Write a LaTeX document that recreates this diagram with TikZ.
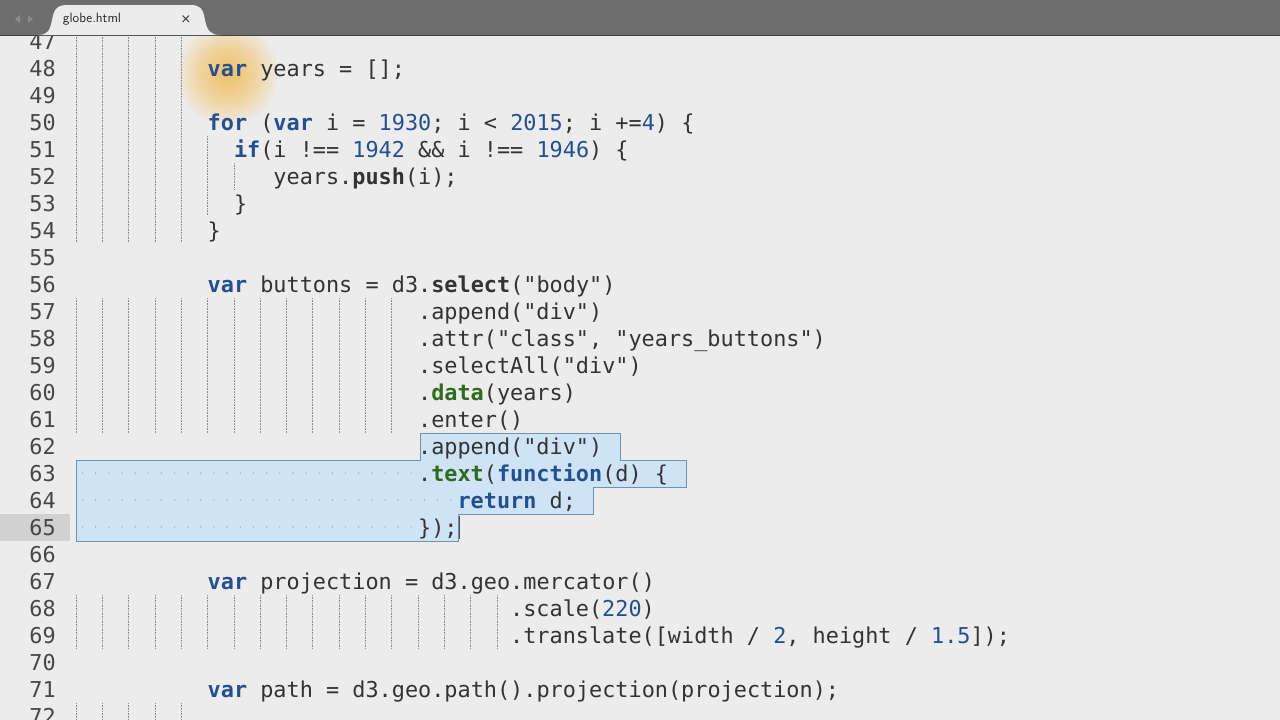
\documentclass[tikz,border=0pt]{standalone}
\usepackage{fontspec}
\setmonofont{DejaVu Sans Mono}
\definecolor{bg}{HTML}{ECECEC}
\definecolor{kwc}{HTML}{24508F}
\definecolor{gnc}{HTML}{2E6B1F}
\definecolor{txc}{HTML}{333333}
\definecolor{selc}{HTML}{CFE3F6}
\definecolor{seld}{HTML}{6F93B5}
\newcommand{\kw}[1]{\textcolor{kwc}{\textbf{#1}}}
\newcommand{\nm}[1]{\textcolor{kwc}{#1}}
\newcommand{\gn}[1]{\textcolor{gnc}{\textbf{#1}}}
\tikzset{code/.style={anchor=mid west,inner sep=0pt,font=\ttfamily\fontsize{21.85}{24}\selectfont,text=txc},
 lnum/.style={anchor=mid east,inner sep=0pt,font=\ttfamily\fontsize{21.85}{24}\selectfont,text=black!72},
 guide/.style={black!45,densely dotted,line width=0.6pt}}
\newcommand{\cl}[3]{\node[code] at ({76+13.15*#2},{74+(#1-48)*27}) {#3};}
\newcommand{\gd}[3]{\foreach \c in {#1} \draw[guide] ({76+13.15*\c},#2) -- ({76+13.15*\c},#3);}
\begin{document}
\begin{tikzpicture}[x=1pt,y=-1pt]
\useasboundingbox (0,0) rectangle (1280,720);
\fill[bg] (0,0) rectangle (1280,720);
\begin{scope}
\clip (0,35) rectangle (1280,720);
% gutter highlight
\fill[black!18] (0,514) rectangle (70,541);
% glow
\foreach \r in {50,46,...,6}
  \fill[orange!70!yellow,opacity=0.06] (228,74) circle (\r);
% guides
\gd{0,2,4,6,8}{35}{243}
\gd{10}{136}{216}
\gd{12}{163}{189}
\gd{0,2,4,...,24}{298}{433}
\gd{0,2,4,...,32}{595}{649}
\gd{0,2,4,6,8}{703}{720}
% selection
\draw[fill=selc,draw=seld,line width=0.7pt] (420,433) -- (620,433) -- (620,460) -- (686,460) -- (686,487) -- (593,487) -- (593,514) -- (458,514) -- (458,541) -- (76,541) -- (76,460) -- (420,460) -- cycle;
\foreach \y/\n in {473/26,500/29,527/26}
  \foreach \i in {0,...,\numexpr\n-1\relax}
    \fill[black!40] ({76+13.15*\i+6.5},\y) circle (0.7);
% line numbers
\foreach \n in {47,...,72}
  \node[lnum] at (56,{74+(\n-48)*27}) {\n};
% code
\cl{48}{10}{\kw{var} years = [];}
\cl{50}{10}{\kw{for} (\kw{var} i = \nm{1930}; i < \nm{2015}; i +=\nm{4}) \{}
\cl{51}{12}{\kw{if}(i !== \nm{1942} \&\& i !== \nm{1946}) \{}
\cl{52}{15}{years.\textbf{push}(i);}
\cl{53}{12}{\}}
\cl{54}{10}{\}}
\cl{56}{10}{\kw{var} buttons = d3.\textbf{select}("body")}
\cl{57}{26}{.append("div")}
\cl{58}{26}{.attr("class", "years\_buttons")}
\cl{59}{26}{.selectAll("div")}
\cl{60}{26}{.\gn{data}(years)}
\cl{61}{26}{.enter()}
\cl{62}{26}{.append("div")}
\cl{63}{26}{.\gn{text}(\kw{function}(d) \{}
\cl{64}{29}{\kw{return} d;}
\cl{65}{26}{\});}
\cl{67}{10}{\kw{var} projection = d3.geo.mercator()}
\cl{68}{33}{.scale(\nm{220})}
\cl{69}{33}{.translate([width / \nm{2}, height / \nm{1.5}]);}
\cl{71}{10}{\kw{var} path = d3.geo.path().projection(projection);}
\draw[black!70,line width=1pt] (459,516) -- (459,539);
\end{scope}
% tab bar
\fill[black!57] (0,0) rectangle (1280,35);
\draw[black!75,line width=1pt] (0,35) -- (1280,35);
\fill[bg] (38,35) .. controls (48,35) and (50,30) .. (52,20) .. controls (54,8) and (58,5) .. (68,5) -- (190,5) .. controls (200,5) and (203,8) .. (205,20) .. controls (207,30) and (210,35) .. (220,35) -- cycle;
\node[font=\sffamily\fontsize{13.5}{15}\selectfont,text=black!85,inner sep=0] (tab) at (92,19) {globe.html};
\node[font=\sffamily\bfseries\fontsize{13}{14}\selectfont,text=black!80,inner sep=0] (cls) at (186,19) {×};
\fill[black!45] (15,19) -- (20,15) -- (20,23) -- cycle;
\fill[black!45] (33,19) -- (28,15) -- (28,23) -- cycle;
\end{tikzpicture}
\end{document}
